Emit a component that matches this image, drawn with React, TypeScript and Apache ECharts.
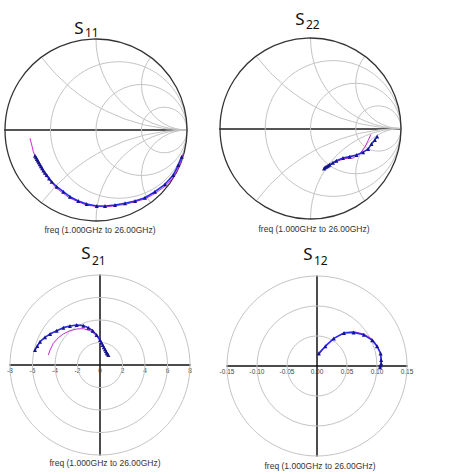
import React, { useEffect, useRef } from 'react';
import * as echarts from 'echarts';

// ---------- grid definitions ----------
const smithResistances = [1 / 3, 1, 3];
const smithReactances = [0.5, 1, 2];
const s21Rings = [2, 4, 6, 8];
const s12Rings = [0.05, 0.1, 0.15];
const s21AxisMin = -8;
const s21AxisMax = 8;
const s21AxisStep = 2;
const s12AxisMin = -0.15;
const s12AxisMax = 0.15;
const s12AxisStep = 0.05;

const titles = ['11', '22', '21', '12'];
const sweepLabel = 'freq (1.000GHz to 26.00GHz)';

// ---------- data (reflection coefficient / polar values) ----------
const s11Measured = [
  [-0.670, -0.282], [-0.660, -0.300], [-0.650, -0.318], [-0.640, -0.336], [-0.630, -0.354],
  [-0.618, -0.375], [-0.605, -0.398], [-0.592, -0.421], [-0.578, -0.445], [-0.562, -0.470],
  [-0.542, -0.495], [-0.515, -0.532], [-0.487, -0.568], [-0.432, -0.623], [-0.359, -0.678],
  [-0.286, -0.733], [-0.195, -0.780], [-0.102, -0.813], [0.008, -0.835], [0.099, -0.835],
  [0.209, -0.824], [0.319, -0.805], [0.429, -0.780], [0.538, -0.744], [0.648, -0.678],
  [0.758, -0.597], [0.849, -0.495], [0.904, -0.385], [0.942, -0.293],
];
const s11Model = [
  [-0.725, -0.091], [-0.705, -0.170], [-0.689, -0.238], [-0.650, -0.340], [-0.600, -0.430],
  [-0.550, -0.505], [-0.440, -0.635], [-0.290, -0.748], [-0.100, -0.828], [0.100, -0.846],
  [0.320, -0.818], [0.540, -0.757], [0.660, -0.690], [0.770, -0.610], [0.860, -0.505],
  [0.920, -0.390], [0.960, -0.255],
];
const s22Measured = [
  [0.150, -0.442], [0.160, -0.432], [0.172, -0.424], [0.185, -0.416], [0.198, -0.408],
  [0.211, -0.400], [0.248, -0.378], [0.286, -0.356], [0.359, -0.326], [0.433, -0.311],
  [0.508, -0.292], [0.581, -0.263], [0.637, -0.226], [0.674, -0.170], [0.711, -0.126],
  [0.737, -0.089],
];
const s22Model = [
  [0.170, -0.430], [0.278, -0.367], [0.378, -0.333], [0.470, -0.326], [0.544, -0.281],
  [0.600, -0.208], [0.637, -0.133], [0.667, -0.067],
];
const s21Measured = [
  [-5.78, 1.33], [-5.57, 1.69], [-5.33, 2.07], [-4.89, 2.46], [-4.44, 2.76], [-3.85, 3.05],
  [-3.26, 3.32], [-2.67, 3.47], [-2.07, 3.56], [-1.48, 3.50], [-1.04, 3.32], [-0.65, 3.05],
  [-0.30, 2.67], [0.0, 2.22], [0.12, 2.0], [0.24, 1.78], [0.34, 1.58], [0.44, 1.39],
  [0.52, 1.24], [0.59, 1.10], [0.66, 0.99], [0.74, 0.89],
];
const s21Model = [
  [-4.59, 0.89], [-4.44, 1.33], [-4.15, 1.93], [-3.70, 2.43], [-3.26, 2.76], [-2.67, 3.05],
  [-2.07, 3.20], [-1.48, 3.23], [-0.89, 3.05], [-0.44, 2.73], [0.0, 2.16], [0.44, 1.39],
  [0.65, 1.04],
];
const s12Measured = [
  [0.003, 0.021], [0.014, 0.033], [0.028, 0.046], [0.045, 0.055], [0.061, 0.056],
  [0.078, 0.052], [0.092, 0.043], [0.100, 0.033], [0.106, 0.021], [0.107, 0.010],
  [0.107, 0.004], [0.106, 0.001], [0.105, -0.002],
];
const s12Model = [
  [0.004, 0.020], [0.015, 0.034], [0.030, 0.047], [0.046, 0.056], [0.062, 0.057],
  [0.079, 0.053], [0.093, 0.044], [0.101, 0.033], [0.106, 0.020], [0.107, 0.008],
];

// ---------- styles ----------
const GRID_GREY = '#c4c4c4';
const MEAS_COLOR = '#2a2aee';
const MARK_COLOR = '#16168a';
const MODEL_COLOR = '#c030d0';
const POLAR_SIZE = 180;

function smithGridSeries(idx: number) {
  return [
    {
      type: 'custom', xAxisIndex: idx, yAxisIndex: idx, silent: true, z: 1,
      data: smithResistances.map((r) => [r, 0]),
      renderItem: (_p: any, api: any) => {
        const r = api.value(0);
        const c = api.coord([r / (1 + r), 0]);
        const rad = api.size([1 / (1 + r), 0])[0];
        return { type: 'circle', shape: { cx: c[0], cy: c[1], r: rad }, style: { fill: 'none', stroke: GRID_GREY, lineWidth: 1 } };
      },
    },
    {
      type: 'custom', xAxisIndex: idx, yAxisIndex: idx, silent: true, z: 1,
      data: smithReactances.flatMap((x) => [[x, 0], [-x, 0]]),
      renderItem: (_p: any, api: any) => {
        const x = api.value(0);
        const ax = Math.abs(x);
        const c = api.coord([1, 1 / x]);
        const rad = api.size([1 / ax, 0])[0];
        const px = (ax * ax - 1) / (ax * ax + 1);
        const py = (2 * ax) / (ax * ax + 1);
        let th = Math.atan2(-(py - 1 / ax), px - 1);
        if (th < Math.PI / 2) th += 2 * Math.PI;
        const shape = x > 0
          ? { cx: c[0], cy: c[1], r: rad, startAngle: Math.PI / 2, endAngle: th, clockwise: true }
          : { cx: c[0], cy: c[1], r: rad, startAngle: -th, endAngle: -Math.PI / 2, clockwise: true };
        return { type: 'arc', shape, style: { fill: 'none', stroke: GRID_GREY, lineWidth: 1 } };
      },
    },
    {
      type: 'custom', xAxisIndex: idx, yAxisIndex: idx, silent: true, z: 3,
      data: [[1, 0]],
      renderItem: (_p: any, api: any) => {
        const c = api.coord([0, 0]);
        const rad = api.size([api.value(0), 0])[0];
        return { type: 'circle', shape: { cx: c[0], cy: c[1], r: rad }, style: { fill: 'none', stroke: '#333', lineWidth: 1.3 } };
      },
    },
  ];
}

function ringSeries(idx: number, radii: number[]) {
  return {
    type: 'custom', xAxisIndex: idx, yAxisIndex: idx, silent: true, z: 1,
    data: radii.map((r) => [r, 0]),
    renderItem: (_p: any, api: any) => {
      const c = api.coord([0, 0]);
      const rad = api.size([api.value(0), 0])[0];
      return { type: 'circle', shape: { cx: c[0], cy: c[1], r: rad }, style: { fill: 'none', stroke: GRID_GREY, lineWidth: 1 } };
    },
  };
}

function traceSeries(idx: number, meas: number[][], model: number[][]) {
  return [
    {
      type: 'line', xAxisIndex: idx, yAxisIndex: idx, z: 5, data: model, showSymbol: false,
      lineStyle: { color: MODEL_COLOR, width: 1 }, silent: true,
    },
    {
      type: 'line', xAxisIndex: idx, yAxisIndex: idx, z: 6, data: meas, symbol: 'triangle', symbolSize: 4,
      lineStyle: { color: MEAS_COLOR, width: 1.6 }, itemStyle: { color: MARK_COLOR }, silent: true,
    },
  ];
}

const smithX = (idx: number) => ({
  gridIndex: idx, type: 'value', min: -1, max: 1,
  axisLine: { onZero: true, lineStyle: { color: '#555', width: 2 } },
  axisTick: { show: false }, axisLabel: { show: false }, splitLine: { show: false },
});
const smithY = (idx: number) => ({
  gridIndex: idx, type: 'value', min: -1, max: 1,
  axisLine: { show: false }, axisTick: { show: false }, axisLabel: { show: false }, splitLine: { show: false },
});
const polarX = (idx: number, min: number, max: number, step: number, digits: number) => ({
  gridIndex: idx, type: 'value', min, max, interval: step,
  position: 'bottom', offset: -POLAR_SIZE / 2,
  axisLine: { onZero: false, lineStyle: { color: '#111', width: 1.5 } },
  axisTick: { show: false },
  axisLabel: {
    show: true, fontSize: 6.5, color: '#444', margin: 2, fontFamily: 'Liberation Sans',
    showMinLabel: true, showMaxLabel: true,
    formatter: (v: number) => (digits ? v.toFixed(digits) : String(Math.round(v))),
  },
  splitLine: { show: false },
});
const polarY = (idx: number, min: number, max: number) => ({
  gridIndex: idx, type: 'value', min, max,
  position: 'left', offset: -POLAR_SIZE / 2,
  axisLine: { onZero: false, lineStyle: { color: '#111', width: 1.5 } },
  axisTick: { show: false }, axisLabel: { show: false }, splitLine: { show: false },
});

const titlePos = [
  { sx: 79, sy: 27, nx: 85, ny: 32 },
  { sx: 300, sy: 18.5, nx: 306, ny: 24 },
  { sx: 86, sy: 252.5, nx: 92, ny: 260 },
  { sx: 308, sy: 253.5, nx: 314, ny: 260.5 },
];
const sweepPos = [
  [100, 230], [314, 229], [105, 463], [320, 466],
];

function buildOption() {
  const graphic: any[] = [];
  titles.forEach((t, i) => {
    const p = titlePos[i];
    graphic.push({ type: 'text', x: p.sx, y: p.sy, style: { text: 'S', fontSize: 17, fontFamily: 'Noto Sans', fill: '#111', align: 'center', verticalAlign: 'middle' } });
    graphic.push({ type: 'text', x: p.nx, y: p.ny, style: { text: t, fontSize: 12, fontFamily: 'Noto Sans', fill: '#111', align: 'left', verticalAlign: 'middle' } });
  });
  sweepPos.forEach(([x, y]) => {
    graphic.push({ type: 'text', x, y, style: { text: sweepLabel, fontSize: 8.5, fontFamily: 'Liberation Sans', fill: '#333', align: 'center', verticalAlign: 'middle' } });
  });

  return {
    animation: false,
    backgroundColor: '#fff',
    grid: [
      { left: 5, top: 39, width: 182, height: 182 },
      { left: 220, top: 38, width: 181, height: 181 },
      { left: 10, top: 275, width: POLAR_SIZE, height: POLAR_SIZE },
      { left: 227, top: 276, width: POLAR_SIZE, height: POLAR_SIZE },
    ],
    xAxis: [
      smithX(0), smithX(1),
      polarX(2, s21AxisMin, s21AxisMax, s21AxisStep, 0),
      polarX(3, s12AxisMin, s12AxisMax, s12AxisStep, 2),
    ],
    yAxis: [
      smithY(0), smithY(1),
      polarY(2, s21AxisMin, s21AxisMax),
      polarY(3, s12AxisMin, s12AxisMax),
    ],
    series: [
      ...smithGridSeries(0),
      ...smithGridSeries(1),
      ringSeries(2, s21Rings),
      ringSeries(3, s12Rings),
      ...traceSeries(0, s11Measured, s11Model),
      ...traceSeries(1, s22Measured, s22Model),
      ...traceSeries(2, s21Measured, s21Model),
      ...traceSeries(3, s12Measured, s12Model),
    ],
    graphic,
  };
}

export default function App() {
  const ref = useRef<HTMLDivElement>(null);
  useEffect(() => {
    if (!ref.current) return;
    const chart = echarts.init(ref.current, null, { renderer: 'svg' });
    chart.setOption(buildOption() as any);
    return () => chart.dispose();
  }, []);
  return (
    <div
      ref={ref}
      style={{ position: 'fixed', left: 0, top: 0, width: 474, height: 474, background: '#fff' }}
    />
  );
}
